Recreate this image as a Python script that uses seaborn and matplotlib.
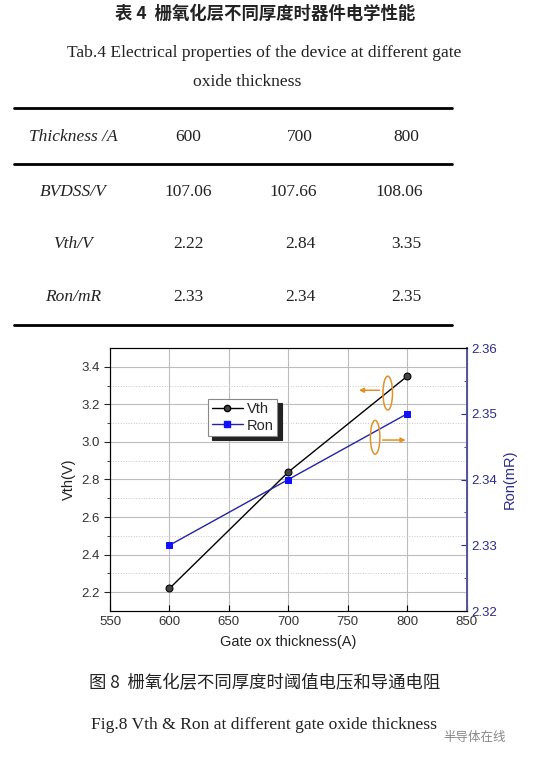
import numpy as np
import pandas as pd
import matplotlib.pyplot as plt
import seaborn as sns
from matplotlib.lines import Line2D
from matplotlib.patches import Ellipse

# Dados da tabela / gráfico
thickness = [600, 700, 800]
bvdss = [107.06, 107.66, 108.06]
vth = [2.22, 2.84, 3.35]
ron = [2.33, 2.34, 2.35]
row_labels = ['Thickness /A', 'BVDSS/V', 'Vth/V', 'Ron/mR']

sns.set_style('ticks')
plt.rcParams['font.family'] = ['Liberation Sans', 'DejaVu Sans']
cjk = ['Noto Sans CJK SC', 'DejaVu Sans']
serif = ['Liberation Serif', 'DejaVu Serif']

W, H = 540, 761
fig = plt.figure(figsize=(W / 100, H / 100), dpi=100)
fig.patch.set_facecolor('white')

def px(x, y):
    # pixel (topo-esquerda) -> coordenadas da figura
    return x / W, 1 - y / H

# Título da tabela
fig.text(*px(265, 14), '表 4  栅氧化层不同厚度时器件电学性能', family=cjk, fontsize=12.5,
         fontweight='bold', ha='center', va='center', color='#222222')
fig.text(*px(264, 53), 'Tab.4 Electrical properties of the device at different gate',
         family=serif, fontsize=12.6, ha='center', va='center', color='#222222')
fig.text(*px(247, 82), 'oxide thickness', family=serif, fontsize=12.6,
         ha='center', va='center', color='#222222')

# Linhas da tabela
for yy in [108, 164, 325]:
    fig.add_artist(Line2D([14 / W, 452 / W], [1 - yy / H, 1 - yy / H],
                          color='black', lw=2.0, transform=fig.transFigure))

# Conteúdo da tabela
row_y = [137, 192, 244, 297]
col_x = [188, 300, 406]
fig.text(*px(73, row_y[0]), row_labels[0], family=serif, style='italic', fontsize=12.5,
         ha='center', va='center', color='#222222')
for i, t in enumerate(thickness):
    fig.text(*px(col_x[i], row_y[0]), f'{t}', family=serif, fontsize=12.5,
             ha='center', va='center', color='#222222')
bv_x = [188, 293, 399]
rows = [(bvdss, bv_x), (vth, col_x), (ron, col_x)]
for r, (vals, xs) in enumerate(rows):
    fig.text(*px(73, row_y[r + 1]), row_labels[r + 1], family=serif, style='italic',
             fontsize=12.5, ha='center', va='center', color='#222222')
    for i, v in enumerate(vals):
        fig.text(*px(xs[i], row_y[r + 1]), f'{v:.2f}', family=serif, fontsize=12.5,
                 ha='center', va='center', color='#222222')

# Gráfico
ax = fig.add_axes([110 / W, 1 - 611 / H, (466.7 - 110) / W, (611 - 348) / H])
ax2 = ax.twinx()
navy = '#2b2b8c'

df = pd.DataFrame({'x': thickness, 'Vth': vth, 'Ron': ron})
sns.lineplot(data=df, x='x', y='Vth', ax=ax, color='black', lw=1.0, marker='o',
             markersize=5, markerfacecolor='#444444', markeredgecolor='black', label='Vth',
             legend=False, zorder=5)
sns.lineplot(data=df, x='x', y='Ron', ax=ax2, color='#2323a8', lw=1.0, marker='s',
             markersize=5, markerfacecolor='#1010ff', markeredgecolor='#1010ff', label='Ron',
             legend=False, zorder=5)

ax.set_xlim(550, 850)
ax.set_ylim(2.1, 3.5)
ax2.set_ylim(2.32, 2.36)
ax.set_xticks(np.arange(550, 851, 50))
ax.set_yticks(np.arange(2.2, 3.41, 0.2))
ax.set_yticks(np.arange(2.3, 3.41, 0.2), minor=True)
ax2.set_yticks(np.arange(2.32, 2.361, 0.01))
ax2.set_yticks(np.arange(2.325, 2.36, 0.01), minor=True)
ax.yaxis.set_major_formatter(plt.FormatStrFormatter('%.1f'))
ax2.yaxis.set_major_formatter(plt.FormatStrFormatter('%.2f'))

ax.grid(True, which='major', color='#bdbdbd', lw=0.8)
ax.grid(True, which='minor', axis='y', color='#c8c8c8', lw=0.7, ls=':')
ax.set_axisbelow(True)

ax.tick_params(axis='x', direction='in', length=4, labelsize=9.5, color='black', labelcolor='#333333')
ax.tick_params(axis='y', which='major', direction='out', length=4, labelsize=9.5, labelcolor='#333333')
ax.tick_params(axis='y', which='minor', direction='out', length=2.5)
ax2.tick_params(axis='y', which='major', direction='in', length=4, labelsize=9.5,
                color=navy, labelcolor=navy)
ax2.tick_params(axis='y', which='minor', direction='in', length=2.5, color=navy)

for s in ['left', 'bottom', 'top']:
    ax2.spines[s].set_color('black')
ax2.spines['right'].set_color('#5555a0')
ax2.spines['right'].set_linewidth(1.4)

ax.set_xlabel('Gate ox thickness(A)', fontsize=10.5, color='#222222', labelpad=5)
ax.set_ylabel('Vth(V)', fontsize=10.5, color='#222222', labelpad=4)
ax2.set_ylabel('Ron(mR)', fontsize=10.5, color=navy, labelpad=4)

# Legenda
handles = [Line2D([], [], color='black', lw=1.0, marker='o', markersize=4.5,
                  markerfacecolor='#444444', markeredgecolor='black'),
           Line2D([], [], color='#2323a8', lw=1.0, marker='s', markersize=4.5,
                  markerfacecolor='#1010ff', markeredgecolor='#1010ff')]
leg = ax2.legend(handles, ['Vth', 'Ron'], loc='upper left', bbox_to_anchor=(0.255, 0.835),
                 fontsize=10.5, frameon=True, fancybox=False,
                 shadow={'color': '#222222', 'alpha': 1.0, 'ox': 3, 'oy': -3},
                 edgecolor='#888888', handlelength=2.1, borderpad=0.25, labelspacing=0.15,
                 handletextpad=0.3)
leg.get_frame().set_linewidth(0.8)

# Setas laranja (indicação dos eixos)
orange = '#e0922a'
ax2.add_patch(Ellipse((783.6, 3.26), 8, 0.18, transform=ax.transData, fill=False,
                      edgecolor=orange, lw=1.1, zorder=6))
ax2.annotate('', xy=(757, 3.275), xytext=(779, 3.275), xycoords=ax.transData,
             textcoords=ax.transData,
             arrowprops=dict(arrowstyle='-|>', color=orange, lw=1.1, mutation_scale=7))
ax2.add_patch(Ellipse((773, 3.025), 8, 0.18, transform=ax.transData, fill=False,
                      edgecolor=orange, lw=1.1, zorder=6))
ax2.annotate('', xy=(801, 3.01), xytext=(777, 3.01), xycoords=ax.transData,
             textcoords=ax.transData,
             arrowprops=dict(arrowstyle='-|>', color=orange, lw=1.1, mutation_scale=7))

# Legendas da figura
fig.text(*px(265, 683), '图 8  栅氧化层不同厚度时阈值电压和导通电阻', family=cjk, fontsize=12.5,
         ha='center', va='center', color='#222222')
fig.text(*px(264, 725), 'Fig.8 Vth & Ron at different gate oxide thickness', family=serif,
         fontsize=12.6, ha='center', va='center', color='#222222')
fig.text(*px(475, 738), '半导体在线', family=cjk, fontsize=9, ha='center', va='center',
         color='#888888')

fig.savefig('out.png', dpi=100, facecolor='white')
